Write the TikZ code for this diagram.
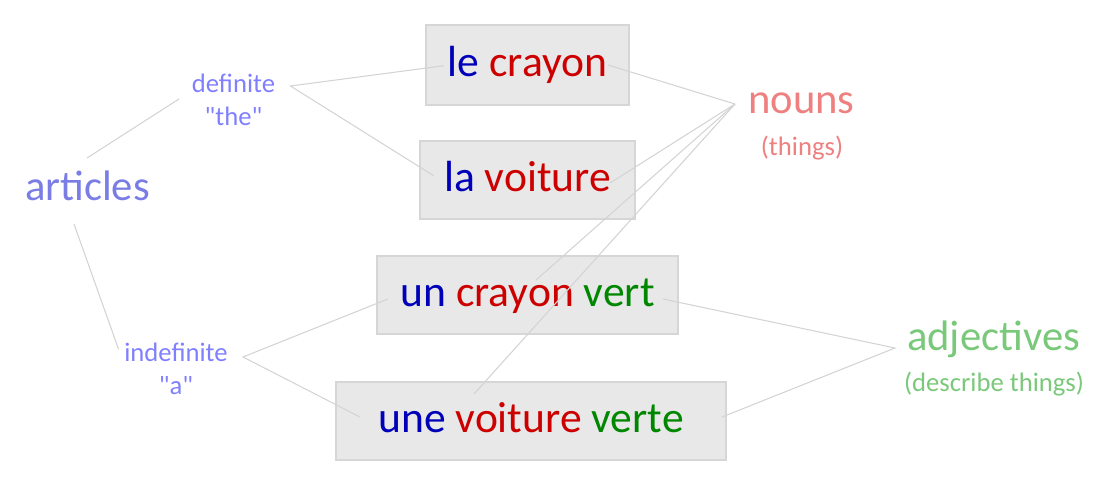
\documentclass[tikz,border=0pt]{standalone}
\usepackage{fontspec}
\setmainfont{Carlito}[Ligatures=TeXReset]
\definecolor{wblue}{RGB}{0,0,185}
\definecolor{wred}{RGB}{205,0,0}
\definecolor{wgreen}{RGB}{0,135,0}
\definecolor{artc}{RGB}{122,126,228}
\definecolor{defc}{RGB}{128,128,255}
\definecolor{nounc}{RGB}{238,128,128}
\definecolor{adjc}{RGB}{122,200,122}
\definecolor{linec}{RGB}{212,212,212}
\definecolor{boxfill}{RGB}{232,232,232}
\definecolor{boxline}{RGB}{214,214,214}
\tikzset{
  wordbox/.style={draw=boxline, fill=boxfill, line width=0.9pt, inner sep=0pt,
    font=\fontsize{32.7}{38}\selectfont, text height=23pt, text depth=6.5pt},
  biglabel/.style={anchor=base, inner sep=0pt, font=\fontsize{32}{38}\selectfont},
  smalllabel/.style={anchor=base, inner sep=0pt, font=\fontsize{20}{24}\selectfont},
  link/.style={draw=linec, line width=0.8pt},
}
\begin{document}
\begin{tikzpicture}[x=0.75pt, y=-0.75pt]
\useasboundingbox (0,0) rectangle (1107,486);
% boxes
\node[wordbox, minimum width=152.25pt, minimum height=60pt] (b1) at (527.5,65)
  {\textcolor{wblue}{le} \textcolor{wred}{crayon}};
\node[wordbox, minimum width=161.25pt, minimum height=58.5pt] (b2) at (527.5,180)
  {\textcolor{wblue}{la} \textcolor{wred}{voiture}};
\node[wordbox, minimum width=225.75pt, minimum height=58.5pt] (b3) at (527.5,295)
  {\textcolor{wblue}{un} \textcolor{wred}{crayon} \textcolor{wgreen}{vert}};
\node[wordbox, minimum width=292.5pt, minimum height=58.5pt] (b4) at (531,421)
  {\textcolor{wblue}{une} \textcolor{wred}{voiture} \textcolor{wgreen}{verte}};
% labels
\node[biglabel, text=artc] (art) at (87.5,200) {articles};
\node[smalllabel, text=defc] (def) at (233.5,92.7) {definite};
\node[smalllabel, text=defc] (the) at (233.5,125) {"the"};
\node[smalllabel, text=defc] (indef) at (176,361.7) {indefinite};
\node[smalllabel, text=defc] (a) at (176,394) {"a"};
\node[biglabel, text=nounc] (nouns) at (801.5,113.3) {nouns};
\node[smalllabel, text=nounc] (things) at (802,155.5) {(things)};
\node[biglabel, text=adjc] (adj) at (993.5,350) {adjectives};
\node[smalllabel, text=adjc] (desc) at (994,391.5) {(describe things)};
% connector end points
\coordinate (artT) at (87,158);
\coordinate (artB) at (74,224);
\coordinate (defL) at (179,99);
\coordinate (defR) at (290.5,86);
\coordinate (indefL) at (118.5,349);
\coordinate (indefR) at (243,357);
\coordinate (nounhub) at (735,104);
\coordinate (adjhub) at (895,348);
\coordinate (b1L) at (444,65.7);
\coordinate (b1R) at (608,65);
\coordinate (b2L) at (433.6,175.7);
\coordinate (b2R) at (610,183);
\coordinate (b3L) at (388,299);
\coordinate (b3T) at (536,280);
\coordinate (b3R) at (663,299);
\coordinate (b4L) at (360,417);
\coordinate (b4T) at (474,394);
\coordinate (b4R) at (722,417);
% connectors
\draw[link] (artT) -- (defL);
\draw[link] (artB) -- (indefL);
\draw[link] (b1L) -- (defR) -- (b2L);
\draw[link] (b3L) -- (indefR) -- (b4L);
\draw[link] (b1R) -- (nounhub);
\draw[link] (b2R) -- (nounhub);
\draw[link] (b3T) -- (nounhub);
\draw[link] (b4T) -- (nounhub);
\draw[link] (b3R) -- (adjhub) -- (b4R);
\end{tikzpicture}
\end{document}
